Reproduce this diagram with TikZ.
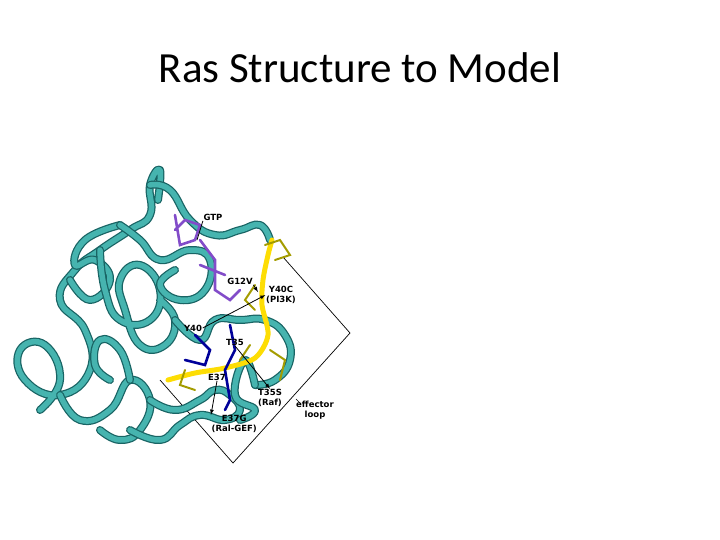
\documentclass[tikz,border=0pt]{standalone}
\usepackage{fontspec}
\setmainfont{Carlito}
\newfontfamily\lab{DejaVu Sans}
\definecolor{ribin}{RGB}{70,180,175}
\definecolor{ribout}{RGB}{25,100,100}
\begin{document}
\begin{tikzpicture}[x=1pt,y=-1pt,
 rib/.style={line width=8pt,draw=ribout,line cap=round,line join=round,
   postaction={draw=ribin,line width=5.5pt}},
 stickp/.style={line width=2.6pt,draw=violet!60!blue!70,line cap=round},
 stickb/.style={line width=2.6pt,draw=blue!60!black,line cap=round},
 sticky/.style={line width=2pt,draw=olive!80!yellow,line cap=round},
 lbl/.style={font=\lab\bfseries\fontsize{8.5}{9.5}\selectfont,inner sep=0.5pt,align=center},
 arr/.style={-latex,line width=0.8pt}]
\useasboundingbox (0,0) rectangle (720,540);
\node (title) at (360,68) {\fontsize{43}{48}\selectfont Ras Structure to Model};
% diamond frame
\coordinate (L) at (160,380); \coordinate (B) at (233,463);
\coordinate (R) at (350,333); \coordinate (T) at (283,257);
\draw[line width=0.7pt] (L) -- (B) -- (R) -- (T);
% ribbons
\draw[rib] plot[smooth,tension=0.8] coordinates {(40,410)(60,380)(45,345)(20,350)(25,380)(60,395)(90,370)(85,330)(60,300)(75,270)(100,250)(130,230)(150,215)(150,185)(160,170)(158,200)};
\draw[rib] plot[smooth,tension=0.8] coordinates {(70,280)(90,300)(110,280)(95,260)(75,265)(85,240)(120,225)};
\draw[rib] plot[smooth,tension=0.8] coordinates {(100,250)(105,290)(120,320)(150,320)(160,290)(140,265)(120,280)(125,310)(140,345)(165,345)(175,320)(160,300)};
\draw[rib] plot[smooth,tension=0.8] coordinates {(60,395)(80,420)(110,410)(130,380)(150,400)(140,430)(120,440)(100,430)};
\draw[rib] plot[smooth,tension=0.8] coordinates {(130,380)(120,350)(100,340)(95,365)(110,380)};
\draw[rib] plot[smooth,tension=0.8] coordinates {(150,185)(170,190)(190,220)(215,235)(240,230)(260,225)(270,240)};
\draw[rib] plot[smooth,tension=0.8] coordinates {(120,225)(140,240)(160,260)(190,250)(210,260)(205,290)(180,300)(160,285)(175,270)};
\draw[rib] plot[smooth,tension=0.8] coordinates {(175,320)(200,340)(215,320)(240,320)(265,320)(285,335)(290,360)(275,380)(255,385)};
\draw[rib] plot[smooth,tension=0.8] coordinates {(150,400)(175,410)(200,400)(215,390)(230,395)(240,410)(225,420)(200,415)(180,425)(160,440)(130,430)};
\draw[rib] plot[smooth,tension=0.8] coordinates {(255,385)(245,360)(235,395)(255,410)(240,420)};
% yellow strand
\draw[line width=5pt,draw=yellow!80!orange,line cap=round] plot[smooth] coordinates {(168,380)(195,373)(225,368)(255,358)(268,335)(262,305)(263,280)(268,255)(272,240)};
% sticks
\draw[stickp] (175,215)--(180,245)--(195,240)--(200,225)--(185,220)--(175,230);
\draw[stickp] (200,240)--(215,260)--(215,290)--(230,300)--(240,290);
\draw[stickp] (200,265)--(225,275);
\draw[stickb] (195,335)--(210,350)--(205,365)--(185,360);
\draw[stickb] (230,325)--(235,350)--(225,370)--(230,400)--(225,410);
\draw[sticky] (265,245)--(280,240)--(290,255)--(275,260);
\draw[sticky] (255,285)--(245,300)--(255,310);
\draw[sticky] (270,350)--(285,360)--(280,380);
\draw[sticky] (185,370)--(180,385)--(195,390);
\draw[sticky] (240,360)--(250,345);
% labels
\node[lbl] (gtp) at (213,217) {GTP};
\node[lbl] (g12v) at (240,281) {G12V};
\node[lbl] (y40c) at (281,295) {Y40C\\(PI3K)};
\node[lbl] (y40) at (193,328) {Y40};
\node[lbl] (t35) at (235,342) {T35};
\node[lbl] (e37) at (217,377) {E37};
\node[lbl] (t35s) at (270,398) {T35S\\(Raf)};
\node[lbl] (eff) at (315,410) {effector\\loop};
\node[lbl,anchor=west] (e37g) at (211,424) {E37G\\(Ral-GEF)};
\coordinate (gtpend) at (197,240);
\coordinate (g12vend) at (258,292);
\draw[line width=0.8pt] (gtp.south west) -- (gtpend);
\draw[arr] (g12v.south east) -- (g12vend);
\draw[arr] (y40.east) -- (y40c.west);
\draw[arr] (t35.south) -- (t35s.north);
\draw[arr] (e37.south) -- (e37g.north west);
\coordinate (tk1) at (296,399); \coordinate (tk2) at (301,404);
\draw[line width=0.7pt] (tk1) -- (tk2);
\end{tikzpicture}
\end{document}
